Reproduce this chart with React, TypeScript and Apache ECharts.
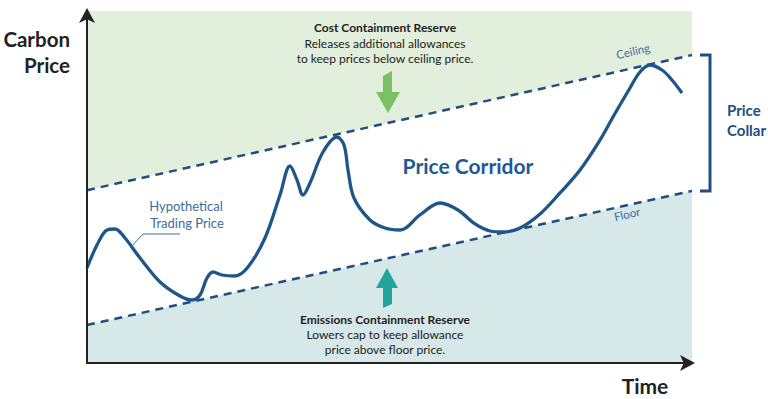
import React, { useEffect, useRef } from "react";
import * as echarts from "echarts";

// x: time (0-100), y: carbon price (0-100), both in arbitrary units
const ceilingLine: [number, number][] = [[0, 49.1], [100, 87.5]];
const floorLine: [number, number][] = [[0, 10.8], [100, 48.9]];

const priceX = [
  0, 1.65, 3.31, 4.63, 6.28, 8.76, 12.07, 15.37, 17.36, 18.68, 19.83, 20.83, 22.31, 24.46,
  26.61, 29.42, 31.9, 33.55, 34.71, 35.7, 36.86, 39.01, 41.32, 42.48, 43.14, 44.13, 46.78,
  49.26, 51.74, 55.04, 58.35, 61.32, 64.13, 66.61, 68.76, 71.57, 74.88, 78.18, 81.49, 84.79,
  86.94, 89.75, 91.4, 93.06, 95.04, 96.69, 98.35,
];
const priceY = [
  26.99, 33.52, 37.78, 38.07, 35.51, 29.83, 23.01, 19.03, 17.9, 19.32, 24.15, 25.85, 25.0, 24.72,
  27.27, 35.51, 47.73, 55.97, 51.99, 47.73, 51.14, 59.94, 64.2, 61.93, 54.83, 46.88, 40.63,
  38.35, 37.78, 42.05, 45.45, 43.47, 39.49, 37.5, 37.22, 38.35, 42.33, 48.3, 54.83, 63.35,
  69.89, 78.13, 82.67, 84.66, 83.24, 80.4, 76.7,
];

const FONT = "Lato, 'Open Sans', sans-serif";
const DARK = "#222222";
const BLUE = "#1f5689";
const LBLUE = "#3d6d9c";

function txt(x: number, y: number, text: string, size: number, weight: string, fill: string, align = "center", rotation = 0) {
  return {
    type: "text",
    x,
    y,
    rotation,
    z: 20,
    style: {
      text,
      fill,
      font: `${weight} ${size}px ${FONT}`,
      textAlign: align,
      textVerticalAlign: "middle",
    },
  };
}

export default function App() {
  const ref = useRef<HTMLDivElement>(null);
  useEffect(() => {
    if (!ref.current) return;
    const chart = echarts.init(ref.current, undefined, { renderer: "svg" });
    const axisCommon = {
      type: "value",
      min: 0,
      max: 100,
      z: 10,
      axisLabel: { show: false },
      axisTick: { show: false },
      splitLine: { show: false },
      axisLine: {
        show: true,
        symbol: ["none", "arrow"],
        symbolSize: [12, 15],
        symbolOffset: [0, 3],
        lineStyle: { color: "#222", width: 2 },
      },
    };
    chart.setOption({
      animation: false,
      grid: { left: 87, right: 76, top: 11, bottom: 36 },
      xAxis: { ...axisCommon },
      yAxis: { ...axisCommon },
      series: [
        {
          type: "line",
          data: ceilingLine,
          symbol: "none",
          lineStyle: { color: "#1f4e80", width: 2.5, type: [8, 6] },
          areaStyle: { origin: "end", color: "#e2efdc", opacity: 1 },
          z: 3,
        },
        {
          type: "line",
          data: floorLine,
          symbol: "none",
          lineStyle: { color: "#1f4e80", width: 2.5, type: [8, 6] },
          areaStyle: { origin: "start", color: "#d6e8e8", opacity: 1 },
          z: 3,
        },
        {
          type: "line",
          data: priceX.map((x, i) => [x, priceY[i]]),
          symbol: "none",
          smooth: 0.35,
          lineStyle: { color: BLUE, width: 3.3 },
          z: 4,
        },
      ],
      graphic: [
        txt(70, 39, "Carbon", 20.5, "bold", DARK, "right"),
        txt(70, 65, "Price", 20.5, "bold", DARK, "right"),
        txt(645, 385, "Time", 21, "bold", DARK),
        txt(385, 27, "Cost Containment Reserve", 12, "bold", DARK),
        txt(385, 43, "Releases additional allowances", 12, "normal", DARK),
        txt(385, 58, "to keep prices below ceiling price.", 12, "normal", DARK),
        txt(385, 319, "Emissions Containment Reserve", 12, "bold", DARK),
        txt(385, 334, "Lowers cap to keep allowance", 12, "normal", DARK),
        txt(385, 349, "price above floor price.", 12, "normal", DARK),
        txt(468, 165, "Price Corridor", 21, "bold", "#1f5a96"),
        txt(186, 206, "Hypothetical", 13, "normal", LBLUE),
        txt(187, 223, "Trading Price", 13, "normal", LBLUE),
        txt(633, 51, "Ceiling", 11.5, "normal", LBLUE, "center", 0.22),
        txt(627, 214, "Floor", 11.5, "normal", LBLUE, "center", 0.22),
        txt(727, 110, "Price", 15, "bold", "#1f4e80", "left"),
        txt(727, 130, "Collar", 15, "bold", "#1f4e80", "left"),
        {
          type: "polyline",
          z: 20,
          shape: { points: [[180, 234], [143, 234], [130, 248]] },
          style: { stroke: LBLUE, lineWidth: 1, fill: "none" },
        },
        {
          type: "polyline",
          z: 20,
          shape: { points: [[700, 55], [710, 55], [710, 191], [700, 191]] },
          style: { stroke: "#1f4e80", lineWidth: 3, fill: "none" },
        },
        {
          type: "polygon",
          z: 20,
          shape: { points: [[383, 76], [392, 71], [392, 92], [400, 92], [388, 113], [376, 92], [383, 92]] },
          style: { fill: "#7cc065" },
        },
        {
          type: "polygon",
          z: 20,
          shape: { points: [[387, 268], [398, 288], [392, 288], [392, 304], [383, 308], [383, 288], [376, 288]] },
          style: { fill: "#22a69c" },
        },
      ],
    });
    return () => chart.dispose();
  }, []);
  return <div ref={ref} style={{ width: 768, height: 399, position: "absolute", left: 0, top: 0 }} />;
}
